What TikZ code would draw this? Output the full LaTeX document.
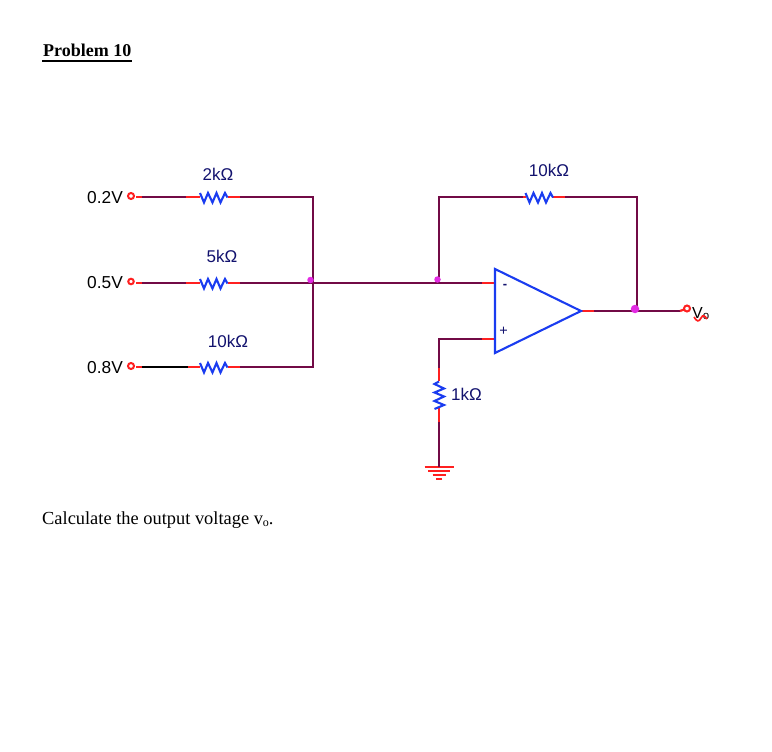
\documentclass[tikz,border=0pt]{standalone}
\usepackage{fontspec}
\setmainfont{Liberation Serif}
\newfontfamily\lab{Liberation Sans}
\definecolor{wirec}{HTML}{720A46}
\definecolor{redc}{HTML}{FF2020}
\definecolor{bluec}{HTML}{1A3CF0}
\definecolor{navyc}{HTML}{12126E}
\definecolor{dotc}{HTML}{E22BE2}
\tikzset{
  x=1pt,y=-1pt,
  wire/.style={draw=wirec,line width=2.2pt},
  lead/.style={draw=redc,line width=2.2pt},
  bluel/.style={draw=bluec,line width=2.1pt,line join=miter},
  term/.style={circle,draw=redc,fill=white,line width=2pt,inner sep=0pt,minimum size=6pt},
  dotn/.style={circle,fill=dotc,inner sep=0pt},
  volt/.style={font=\lab\fontsize{17.3}{19}\selectfont,text=black,inner sep=0pt},
  val/.style={font=\lab\fontsize{17}{19}\selectfont,text=navyc,inner sep=0pt},
  zig/.pic={\draw[bluel] (-14,-4.5) -- (-10,5) -- (-6,-4.5) -- (-1.5,5) -- (2.5,-4.5) -- (6.5,5) -- (11,-4.5) -- (13.5,0);}
}
\begin{document}
\begin{tikzpicture}
\useasboundingbox (0,0) rectangle (772,752);
% named points
\coordinate (t1) at (131,196); \coordinate (t2) at (131,281.5); \coordinate (t3) at (131,366); \coordinate (to) at (687,308.5);
\coordinate (a1) at (142,197); \coordinate (a2) at (186,197); \coordinate (a3) at (240,197); \coordinate (a4) at (228,197); \coordinate (a0) at (200,197);
\coordinate (b1) at (142,283); \coordinate (b2) at (186,283); \coordinate (b3) at (240,283); \coordinate (b4) at (228,283); \coordinate (b0) at (200,283);
\coordinate (c1) at (142,367); \coordinate (c2) at (188,367); \coordinate (c3) at (240,367); \coordinate (c4) at (228,367); \coordinate (c0) at (200,367);
\coordinate (ctr) at (313,197);
\coordinate (cbr) at (313,367);
\coordinate (k) at (439,283);
\coordinate (ftl) at (439,197);
\coordinate (ftr) at (637,197);
\coordinate (o) at (637,311);
\coordinate (f1) at (523,197); \coordinate (f2) at (526,197); \coordinate (f3) at (552,197); \coordinate (f4) at (565,197);
\coordinate (im) at (482,283); \coordinate (ip) at (482,339);
\coordinate (opm) at (495,283); \coordinate (opp) at (495,339);
\coordinate (pc) at (439,339);
\coordinate (r1) at (439,368); \coordinate (r2) at (439,381); \coordinate (r3) at (439,408); \coordinate (r4) at (439,422);
\coordinate (g) at (439,467);
\coordinate (oa) at (581,311); \coordinate (ob) at (594,311); \coordinate (oc) at (680,311);
% wires
\draw[wire] (a1) -- (a2);
\draw[wire] (a3) -- (ctr) -- (cbr) -- (c3);
\draw[wire] (b1) -- (b2);
\draw[wire] (b3) -- (im);
\draw[draw=black,line width=2.2pt] (c1) -- (c2);
\draw[wire] (k) -- (ftl) -- (f1);
\draw[wire] (f4) -- (ftr) -- (o);
\draw[wire] (ob) -- (oc);
\draw[wire] (ip) -- (pc) -- (r1);
\draw[wire] (r4) -- (g);
% red leads
\draw[lead] (136,197) -- (a1);
\draw[lead] (136,283) -- (b1);
\draw[lead] (136,367) -- (c1);
\foreach \p/\q in {a2/a0,a4/a3,b2/b0,b4/b3,c2/c0,c4/c3,f1/f2,f3/f4,im/opm,ip/opp,r1/r2,r3/r4,oa/ob}{\draw[lead] (\p) -- (\q);}
\draw[lead] (oc) -- (to);
\node[term] (n1) at (t1) {};
\node[term,minimum size=5.5pt] (n2) at (t2) {};
\node[term] (n3) at (t3) {};
\node[term] (no) at (to) {};
% resistors
\pic at (214,197.5) {zig};
\pic at (214,283.5) {zig};
\pic at (214,367.5) {zig};
\pic at (539.5,197.5) {zig};
\pic[rotate=90] at (439,395) {zig};
% op amp triangle
\draw[bluel] (495,269) -- (581,311) -- (495,353) -- cycle;
\node[font=\lab\bfseries\fontsize{13}{14}\selectfont,text=navyc,inner sep=0pt] (mn) at (505,286) {-};
\node[font=\lab\fontsize{14.5}{15}\selectfont,text=navyc,inner sep=0pt] (pl) at (503.5,331.5) {+};
% ground
\draw[lead] (424.5,467) -- (453.5,467);
\draw[lead] (428,471) -- (450,471);
\draw[lead] (432.5,475) -- (446,475);
\draw[lead] (436,479) -- (442,479);
\draw[wire] (439,455) -- (g);
% junction dots
\node[dotn,minimum size=6.5pt] (d1) at (310.5,280) {};
\node[dotn,minimum size=6.5pt] (d2) at (437.5,279.5) {};
\node[dotn,minimum size=8.5pt] (d3) at (635,309) {};
% labels
\node[volt,anchor=east] (l1) at (123,197.5) {0.2V};
\node[volt,anchor=east] (l2) at (123,282.5) {0.5V};
\node[volt,anchor=east] (l3) at (123,367.5) {0.8V};
\node[val] (v1) at (218,174) {2kΩ};
\node[val] (v2) at (222,256) {5kΩ};
\node[val] (v3) at (228,341) {10kΩ};
\node[val] (v4) at (549,170.5) {10kΩ};
\node[val,anchor=west] (v5) at (451,394) {1kΩ};
\node[font=\lab\fontsize{16}{17}\selectfont,inner sep=0pt,anchor=base west] (vo) at (692,318) {V\raisebox{-1pt}{\fontsize{11.5}{12}\selectfont o}};
\draw[draw=redc,line width=1.7pt] (694,317) .. controls (697,322) and (699,322) .. (701,318) .. controls (703,314) and (705,316) .. (707,319);
% text
\node[font=\bfseries\fontsize{18}{20}\selectfont,inner sep=0pt,anchor=base west] (title) at (43,56.5) {Problem 10};
\draw[draw=black,line width=2pt] (42,61) -- (132,61);
\node[font=\fontsize{18.4}{20}\selectfont,inner sep=0pt,anchor=base west] (q) at (42,524) {Calculate the output voltage v\raisebox{-2.5pt}{\fontsize{12}{12}\selectfont o}.};
\end{tikzpicture}
\end{document}
